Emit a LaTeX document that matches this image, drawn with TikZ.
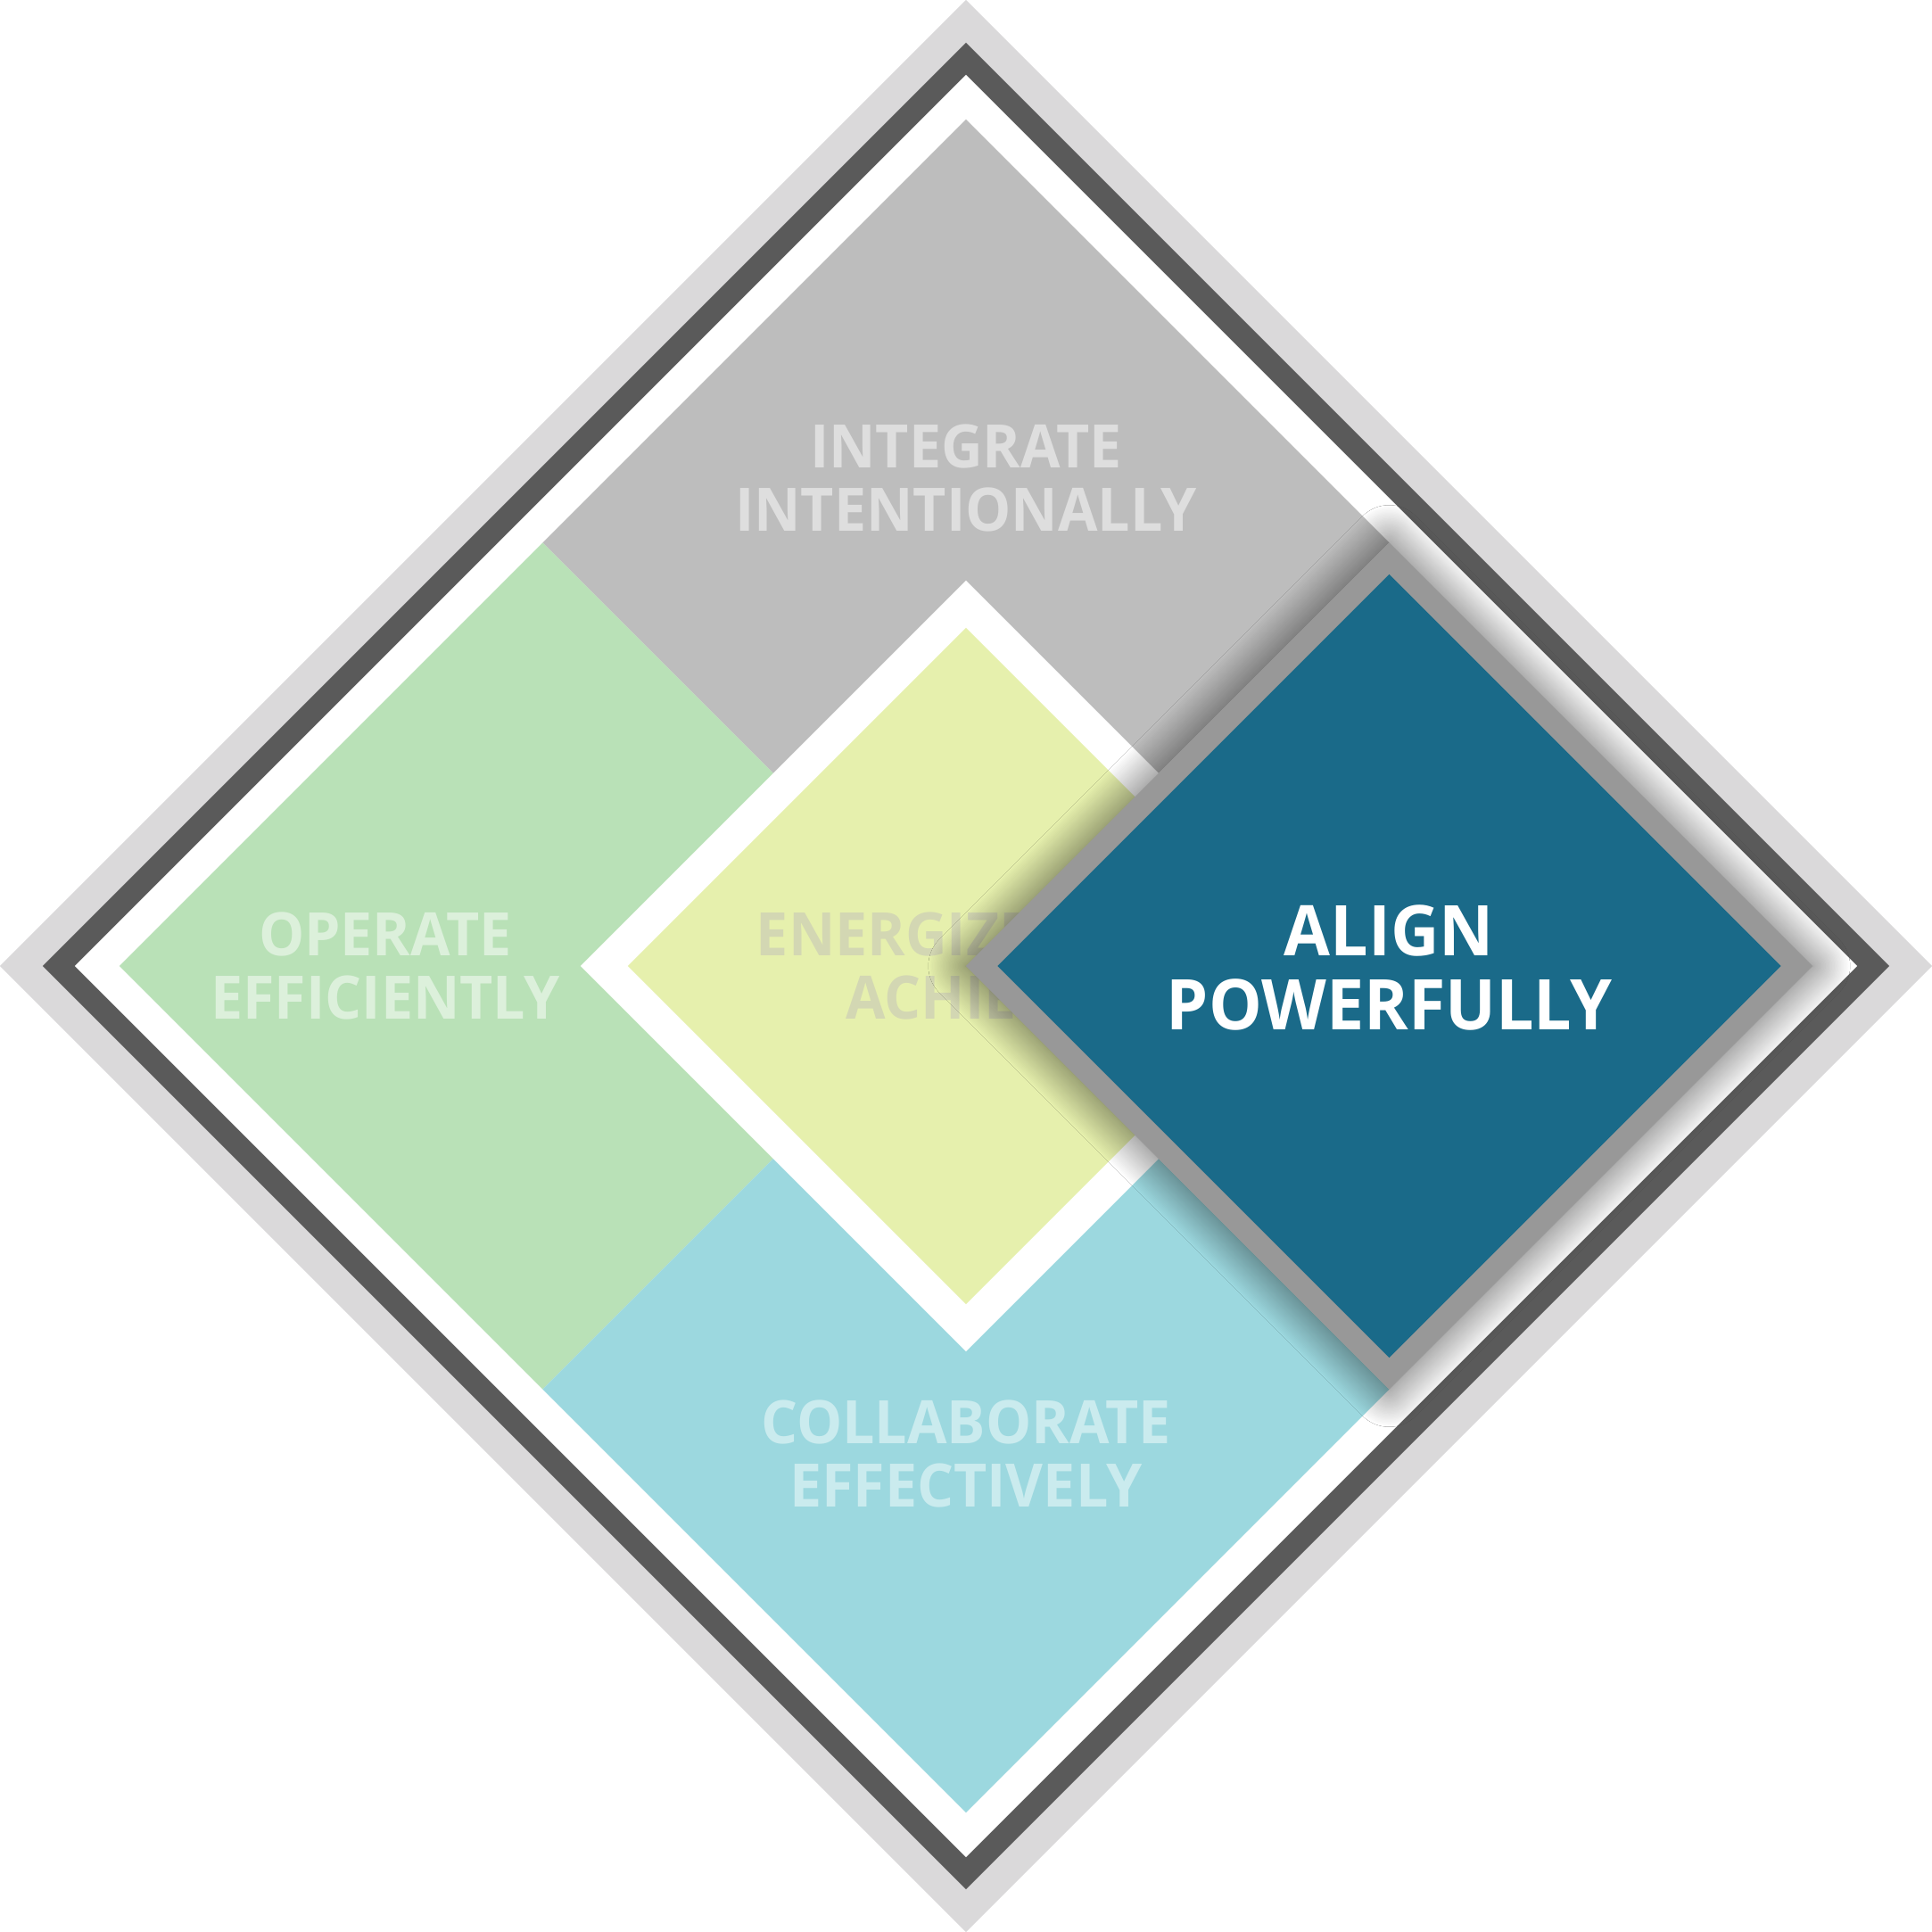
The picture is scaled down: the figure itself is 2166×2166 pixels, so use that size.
\documentclass[tikz,border=0pt]{standalone}
\usepackage{fontspec}
\setmainfont{Open Sans}[FakeStretch=0.96]
\usetikzlibrary{shadows.blur}

\definecolor{rimlight}{HTML}{DAD9DA}
\definecolor{rimdark}{HTML}{5A5A5A}
\definecolor{quadgray}{HTML}{BDBDBD}
\definecolor{quadgreen}{HTML}{B9E1B7}
\definecolor{quadcyan}{HTML}{9CD8DF}
\definecolor{quadyellow}{HTML}{E6F0AD}
\definecolor{alignblue}{HTML}{1A6A89}
\definecolor{alignrim}{HTML}{989898}
\definecolor{integtext}{HTML}{DEDEDE}
\definecolor{operatetext}{HTML}{DCF0DB}
\definecolor{energizetext}{HTML}{D3D7B3}
\definecolor{collabtext}{HTML}{CAEBEE}

\begin{document}
\begin{tikzpicture}[x=0.01cm, y=0.01cm,
    quadtext/.style={font=\bfseries\fontsize{19.1}{20.2}\selectfont, align=center, inner sep=0pt},
    aligntext/.style={font=\bfseries\fontsize{22.3}{23.6}\selectfont, align=center, inner sep=0pt, text=white}]

    \useasboundingbox (-1083,-1083) rectangle (1083,1083);

    % frame
    \fill[rimlight] (0,1083) -- (1083,0) -- (0,-1083) -- (-1083,0) -- cycle;
    \fill[rimdark] (0,1035) -- (1035,0) -- (0,-1035) -- (-1035,0) -- cycle;
    \fill[white] (0,999) -- (999,0) -- (0,-999) -- (-999,0) -- cycle;

    % quadrants
    \fill[quadgray] (0,949) -- (474.5,474.5) -- (0,0) -- (-474.5,474.5) -- cycle; % top
    \fill[quadgreen] (-474.5,474.5) -- (0,0) -- (-474.5,-474.5) -- (-949,0) -- cycle; % left
    \fill[quadcyan] (0,0) -- (474.5,-474.5) -- (0,-949) -- (-474.5,-474.5) -- cycle; % bottom

    % centre
    \fill[white] (0,432) -- (432,0) -- (0,-432) -- (-432,0) -- cycle;
    \fill[quadyellow] (0,379) -- (379,0) -- (0,-379) -- (-379,0) -- cycle;

    % texts
    \node[quadtext, text=integtext] at (0,547) (integ) {INTEGRATE\\INTENTIONALLY};
    \node[quadtext, text=operatetext] at (-651,0) (operate) {OPERATE\\EFFICIENTLY};
    \node[quadtext, text=energizetext] at (0,0) (energize) {ENERGIZE AND\\ACHIEVE};
    \node[quadtext, text=collabtext] at (0,-547) (collab) {COLLABORATE\\EFFECTIVELY};

    % highlighted square
    \fill[alignrim, blur shadow={shadow xshift=0pt, shadow yshift=0pt, shadow blur radius=12pt,
            shadow blur steps=30, shadow blur extra rounding=0pt, shadow opacity=65}]
        (474.5,474.5) -- (949,0) -- (474.5,-474.5) -- (0,0) -- cycle;
    \fill[alignblue] (474.5,439) -- (913.5,0) -- (474.5,-439) -- (35.5,0) -- cycle;
    \node[aligntext] at (474.5,-2) (align) {ALIGN\\POWERFULLY};

\end{tikzpicture}
\end{document}
